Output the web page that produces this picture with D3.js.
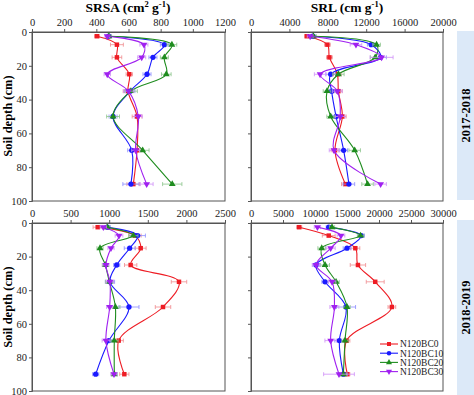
<!DOCTYPE html>
<html>
<head>
<meta charset="utf-8">
<script src="https://cdn.jsdelivr.net/npm/d3@7"></script>
<style>
body { margin: 0; background: #fff; }
text { font-family: "Liberation Serif", "DejaVu Serif", serif; }
</style>
</head>
<body>
<svg id="chart" width="474" height="395"></svg>
<script>
// soil depths (cm), mid-points of the sampling layers
var depths = [2.5, 7.5, 15, 25, 35, 50, 70, 90];
var seriesNames = ["N120BC0", "N120BC10", "N120BC20", "N120BC30"];
var depthTicks = [0, 20, 40, 60, 80, 100];

// 2017-2018 SRSA
var srsa1 = [
    [404, 528, 528, 605, 597, 653, 653, 630],
    [477, 823, 752, 715, 610, 504, 620, 615],
    [478, 870, 823, 835, 615, 504, 688, 872],
    [468, 696, 682, 468, 600, 661, 645, 713]
];
var srsa1Err = [
    [15, 40, 30, 20, 30, 30, 25, 40],
    [15, 25, 25, 25, 30, 25, 25, 50],
    [15, 30, 25, 30, 40, 40, 40, 60],
    [15, 25, 25, 20, 30, 25, 25, 40]
];
// 2017-2018 SRL
var srl1 = [
    [5813, 7958, 8166, 9000, 9100, 9515, 8750, 9830],
    [6436, 12526, 13500, 8300, 8400, 8860, 9650, 10200],
    [6500, 13080, 12940, 9100, 7920, 8300, 10800, 12140],
    [6160, 10934, 13600, 7200, 9000, 9300, 8650, 13500]
];
var srl1Err = [
    [200, 300, 300, 400, 400, 400, 400, 400],
    [300, 400, 600, 500, 400, 400, 400, 600],
    [300, 400, 500, 600, 400, 400, 600, 600],
    [300, 600, 1200, 600, 500, 500, 500, 600]
];
// 2018-2019 SRSA
var srsa2 = [
    [851, 1334, 1408, 1278, 1904, 1697, 1123, 1196],
    [976, 1369, 1265, 1097, 1010, 1256, 997, 825],
    [976, 1313, 881, 950, 1002, 1080, 1066, 1066],
    [924, 1127, 1023, 958, 1010, 1006, 958, 1062]
];
var srsa2Err = [
    [60, 80, 70, 80, 100, 100, 60, 60],
    [40, 100, 70, 40, 60, 130, 50, 40],
    [30, 60, 40, 40, 50, 60, 50, 40],
    [40, 50, 40, 40, 50, 40, 50, 40]
];
// 2018-2019 SRL
var srl2 = [
    [7525, 12145, 16300, 16710, 19410, 22010, 14950, 15050],
    [12145, 17230, 15000, 10170, 11570, 14840, 13800, 14430],
    [12660, 17120, 11050, 11570, 13290, 15000, 14690, 14430],
    [10380, 14060, 12450, 10170, 12660, 13030, 12450, 13750]
];
var srl2Err = [
    [400, 1000, 700, 1200, 1400, 600, 500, 400],
    [400, 500, 600, 500, 500, 1500, 700, 600],
    [400, 500, 600, 700, 500, 500, 500, 500],
    [500, 600, 700, 600, 600, 700, 900, 2400]
];

var colors = ["#ee1c24", "#1a1aff", "#1e8c1e", "#a020f0"];
var errColors = ["#f08a8e", "#8a8aff", "#8ac48a", "#cf8ff7"];
var symbols = [d3.symbolSquare, d3.symbolCircle, d3.symbolTriangle, d3.symbolTriangle];

var svg = d3.select("#chart");

function Panel(x0, x1, y0, y1, xMax, xStep, data, err, showY)
{
    var x = d3.scaleLinear().domain([0, xMax]).range([x0, x1]);
    var y = d3.scaleLinear().domain([0, 100]).range([y0, y1]);
    var g = svg.append("g");

    g.append("rect")
        .attr("x", x0).attr("y", y0)
        .attr("width", x1 - x0).attr("height", y1 - y0)
        .attr("fill", "none")
        .attr("stroke", "#555")
        .attr("stroke-width", 1);

    var xa = g.append("g")
        .attr("transform", "translate(0," + y0 + ")")
        .call(d3.axisTop(x).tickValues(d3.range(0, xMax + 1, xStep)).tickSize(3).tickPadding(3).tickFormat(d3.format("d")));
    xa.selectAll("text").attr("font-size", 10.5).attr("fill", "#222");

    var ya = g.append("g")
        .attr("transform", "translate(" + x0 + ",0)")
        .call(d3.axisLeft(y).tickValues(depthTicks).tickSize(3).tickPadding(2));
    ya.selectAll("text").attr("font-size", 10.5).attr("fill", "#222");
    if (!showY) ya.selectAll("text").remove();
    g.selectAll(".domain").attr("stroke", "#555");
    g.selectAll(".tick line").attr("stroke", "#555");

    var line = d3.line()
        .x(function(d){ return x(d[0]); })
        .y(function(d){ return y(d[1]); })
        .curve(d3.curveCatmullRom.alpha(0.5));

    data.forEach(function(vals, s){
        var pts = vals.map(function(v, i){ return [v, depths[i], err[s][i]]; });
        // error bars
        pts.forEach(function(p){
            var eg = g.append("g").attr("stroke", errColors[s]).attr("stroke-width", 0.8);
            eg.append("line").attr("x1", x(p[0] - p[2])).attr("x2", x(p[0] + p[2])).attr("y1", y(p[1])).attr("y2", y(p[1]));
            eg.append("line").attr("x1", x(p[0] - p[2])).attr("x2", x(p[0] - p[2])).attr("y1", y(p[1]) - 2).attr("y2", y(p[1]) + 2);
            eg.append("line").attr("x1", x(p[0] + p[2])).attr("x2", x(p[0] + p[2])).attr("y1", y(p[1]) - 2).attr("y2", y(p[1]) + 2);
        });
        g.append("path")
            .attr("d", line(pts))
            .attr("fill", "none")
            .attr("stroke", colors[s])
            .attr("stroke-width", 1.1);
        g.selectAll(null)
            .data(pts)
            .enter()
            .append("path")
            .attr("d", d3.symbol().type(symbols[s]).size(s == 1 ? 22 : 20))
            .attr("transform", function(d){ return "translate(" + x(d[0]) + "," + y(d[1]) + ")" + (s == 3 ? " rotate(180)" : ""); })
            .attr("fill", colors[s]);
    });
}

Panel(32, 225, 32, 201, 1200, 200, srsa1, srsa1Err, true);
Panel(251, 443, 32, 201, 20000, 4000, srl1, srl1Err, false);
Panel(32, 225, 223, 391, 2500, 500, srsa2, srsa2Err, true);
Panel(251, 443, 223, 391, 30000, 5000, srl2, srl2Err, false);

// titles
var t1 = svg.append("text").attr("x", 128).attr("y", 12).attr("text-anchor", "middle")
    .attr("font-weight", "bold").attr("font-size", 13.5);
t1.append("tspan").text("SRSA (cm");
t1.append("tspan").attr("dy", -5).attr("font-size", 8.5).text("2");
t1.append("tspan").attr("dy", 5).text(" g");
t1.append("tspan").attr("dy", -5).attr("font-size", 8.5).text("-1");
t1.append("tspan").attr("dy", 5).text(")");

var t2 = svg.append("text").attr("x", 347).attr("y", 12).attr("text-anchor", "middle")
    .attr("font-weight", "bold").attr("font-size", 13.5);
t2.append("tspan").text("SRL (cm g");
t2.append("tspan").attr("dy", -5).attr("font-size", 8.5).text("-1");
t2.append("tspan").attr("dy", 5).text(")");

// y labels
[116, 307].forEach(function(cy){
    svg.append("text")
        .attr("transform", "translate(12," + cy + ") rotate(-90)")
        .attr("text-anchor", "middle")
        .attr("font-weight", "bold")
        .attr("font-size", 12.5)
        .text("Soil depth (cm)");
});

// year strips
var years = ["2017-2018", "2018-2019"];
[[31, 200], [220, 395]].forEach(function(r, i){
    svg.append("rect")
        .attr("x", 457).attr("y", r[0])
        .attr("width", 17).attr("height", r[1] - r[0])
        .attr("fill", "#dce9f8");
    svg.append("text")
        .attr("transform", "translate(470," + ((r[0] + r[1]) / 2) + ") rotate(-90)")
        .attr("text-anchor", "middle")
        .attr("font-weight", "bold")
        .attr("font-size", 12.5)
        .text(years[i]);
});

// legend
var legend = svg.append("g");
seriesNames.forEach(function(name, s){
    var ly = 344 + s * 9.2;
    legend.append("line")
        .attr("x1", 380).attr("x2", 398).attr("y1", ly).attr("y2", ly)
        .attr("stroke", colors[s]).attr("stroke-width", 1.1);
    legend.append("path")
        .attr("d", d3.symbol().type(symbols[s]).size(16))
        .attr("transform", "translate(389," + ly + ")" + (s == 3 ? " rotate(180)" : ""))
        .attr("fill", colors[s]);
    legend.append("text")
        .attr("x", 400).attr("y", ly + 3.3)
        .attr("font-size", 9.5)
        .attr("fill", "#222")
        .text(name);
});
</script>
</body>
</html>
